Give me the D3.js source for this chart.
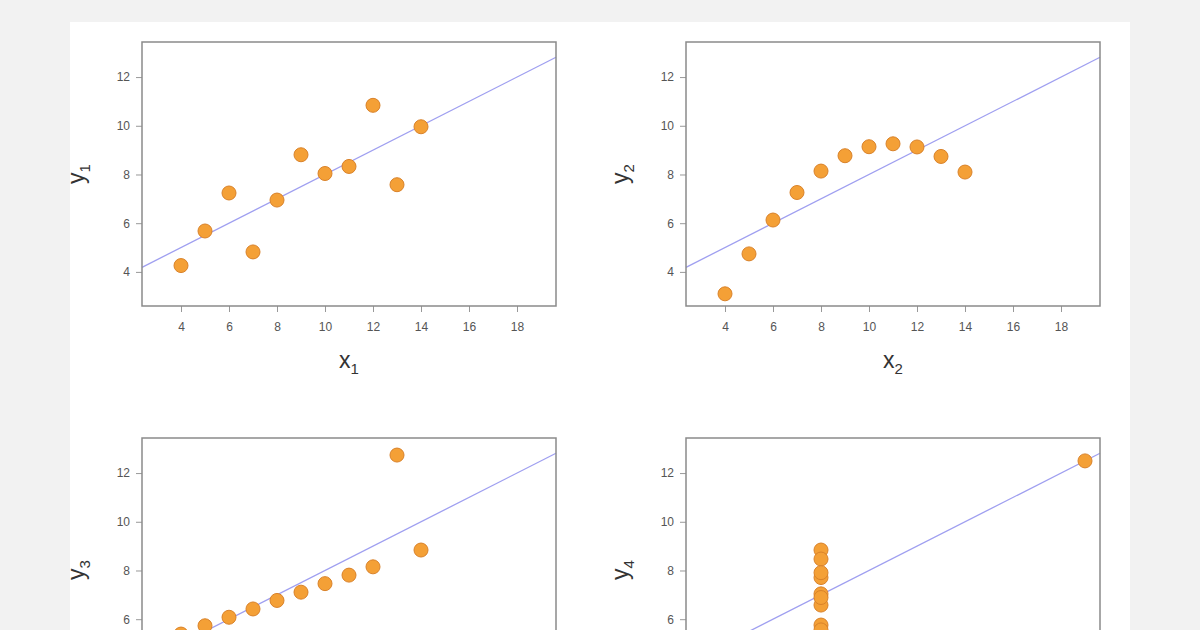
<!DOCTYPE html>
<html>
<head>
<meta charset="utf-8">
<script src="https://cdnjs.cloudflare.com/ajax/libs/d3/7.8.5/d3.min.js"></script>
<style>
body { margin: 0; background: #f2f2f2; overflow: hidden; }
</style>
</head>
<body>
<svg width="1200" height="630"></svg>
<script>
// Datos (cuarteto de Anscombe)
var x123 = [10, 8, 13, 9, 11, 14, 6, 4, 12, 7, 5];
var y1 = [8.04, 6.95, 7.58, 8.81, 8.33, 9.96, 7.24, 4.26, 10.84, 4.82, 5.68];
var y2 = [9.14, 8.14, 8.74, 8.77, 9.26, 8.10, 6.13, 3.10, 9.13, 7.26, 4.74];
var y3 = [7.46, 6.77, 12.74, 7.11, 7.81, 8.84, 6.08, 5.39, 8.15, 6.42, 5.73];
var x4 = [8, 8, 8, 8, 8, 8, 8, 19, 8, 8, 8];
var y4 = [6.58, 5.76, 7.71, 8.84, 8.47, 7.04, 5.25, 12.50, 5.56, 7.91, 6.89];
var xTicks = [4, 6, 8, 10, 12, 14, 16, 18];
var yTicks = [4, 6, 8, 10, 12];

var panels = [
    {n: 1, xs: x123, ys: y1, left: 142, top: 42},
    {n: 2, xs: x123, ys: y2, left: 686, top: 42},
    {n: 3, xs: x123, ys: y3, left: 142, top: 438},
    {n: 4, xs: x4, ys: y4, left: 686, top: 438}
];

var w = 414, h = 264;
var svg = d3.select('svg');

svg.append('rect').attr('x', 70).attr('y', 22).attr('width', 1060).attr('height', 640).attr('fill', '#fff');

var xScale = d3.scaleLinear().domain([2.375, 19.625]).range([0, w]);
var yScale = d3.scaleLinear().domain([2.6, 13.44]).range([h, 0]);

panels.forEach(function(p) {
    var g = svg.append('g').attr('transform', 'translate(' + p.left + ',' + p.top + ')');

    var xAxis = g.append('g').attr('transform', 'translate(0,' + h + ')')
        .call(d3.axisBottom(xScale).tickValues(xTicks).tickSize(6).tickPadding(10));
    var yAxis = g.append('g')
        .call(d3.axisLeft(yScale).tickValues(yTicks).tickSize(6).tickPadding(6));
    [xAxis, yAxis].forEach(function(a) {
        a.select('.domain').remove();
        a.selectAll('line').attr('stroke', '#999');
        a.selectAll('text').attr('fill', '#555').style('font-family', 'Liberation Sans, Arial, sans-serif').style('font-size', '12px');
    });

    // recta de regresion y = 3 + 0.5x
    g.append('line')
        .attr('x1', xScale(2.375)).attr('y1', yScale(3 + 0.5 * 2.375))
        .attr('x2', xScale(19.625)).attr('y2', yScale(3 + 0.5 * 19.625))
        .attr('stroke', '#9f9ff0').attr('stroke-width', 1.3);

    g.selectAll('circle')
        .data(p.xs.map(function(d, i) { return [d, p.ys[i]]; }))
        .enter()
        .append('circle')
        .attr('cx', function(d) { return xScale(d[0]); })
        .attr('cy', function(d) { return yScale(d[1]); })
        .attr('r', 7)
        .attr('fill', '#f4a036')
        .attr('stroke', '#d9822a')
        .attr('stroke-width', 1);

    g.append('rect').attr('width', w).attr('height', h)
        .attr('fill', 'none').attr('stroke', '#8a8a8a').attr('stroke-width', 1.5);

    var xl = g.append('text').attr('x', w / 2).attr('y', h + 62)
        .attr('text-anchor', 'middle').attr('fill', '#333')
        .style('font-family', 'Liberation Sans, Arial, sans-serif').style('font-size', '23px');
    xl.append('tspan').text('x');
    xl.append('tspan').text(p.n).attr('dy', 6).style('font-size', '15px');

    var yl = g.append('text')
        .attr('transform', 'translate(-58,' + (h / 2) + ') rotate(-90)')
        .attr('text-anchor', 'middle').attr('fill', '#333')
        .style('font-family', 'Liberation Sans, Arial, sans-serif').style('font-size', '23px');
    yl.append('tspan').text('y');
    yl.append('tspan').text(p.n).attr('dy', 6).style('font-size', '15px');
});
</script>
</body>
</html>
